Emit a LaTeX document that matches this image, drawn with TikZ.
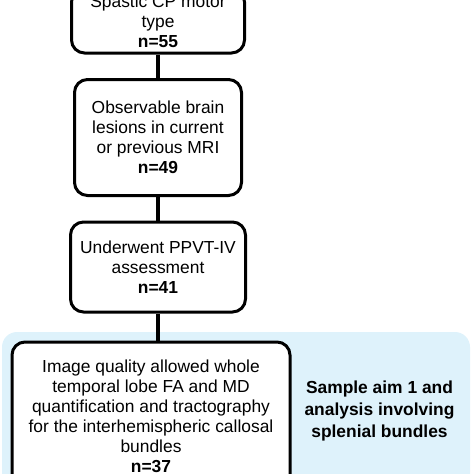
\documentclass[tikz,border=0pt]{standalone}
\usepackage{fontspec}
\setmainfont{Liberation Sans}
\usetikzlibrary{positioning,chains,backgrounds}
\definecolor{aimblue}{RGB}{222,242,251}
\tikzset{
  box/.style={
    rectangle,
    rounded corners=13pt,
    fill=white,
    draw=black, line width=3pt,
    align=center,
    font=\fontsize{17.4}{20}\selectfont,
    inner sep=2pt,
    on chain},
  aimlabel/.style={
    align=center,
    font=\fontsize{17.4}{22}\selectfont\bfseries},
  aimpanel/.style={
    fill=aimblue,
    rounded corners=15pt},
  every join/.style={draw, line width=4pt},
}

\begin{document}
\begin{tikzpicture}[x=1pt,y=1pt,
  start chain=going below,
  node distance=23.5pt]
\useasboundingbox (0,0) rectangle (474,-474);
\node[box, minimum width=173pt, minimum height=64pt] (Spastic) at (158,-21) {
Spastic CP motor\\type\\\textbf{n=55}
};
\node[box, join, minimum width=167pt, minimum height=116pt] (Lesions) {
Observable brain\\lesions in current\\or previous MRI\\\textbf{n=49}
};
\node[box, join, minimum width=175pt, minimum height=90pt] (PPVT) {
Underwent PPVT-IV\\assessment\\\textbf{n=41}
};

% sample for aim 1
\node[box, minimum width=278pt, minimum height=148pt,
      below=27pt of PPVT, xshift=-7pt] (Quality) {
Image quality allowed whole\\temporal lobe FA and MD\\quantification and tractography\\for the interhemispheric callosal\\bundles\\\textbf{n=37}
};
\draw[line width=4pt] (PPVT.south) -- (PPVT.south |- Quality.north);

\node[aimlabel] (Aim) at (379.5,-410.6) {
Sample aim 1 and\\analysis involving\\splenial bundles
};

\begin{scope}[on background layer]
\fill[aimpanel] (2,-332) rectangle (470,-520);
\end{scope}
\end{tikzpicture}
\end{document}
